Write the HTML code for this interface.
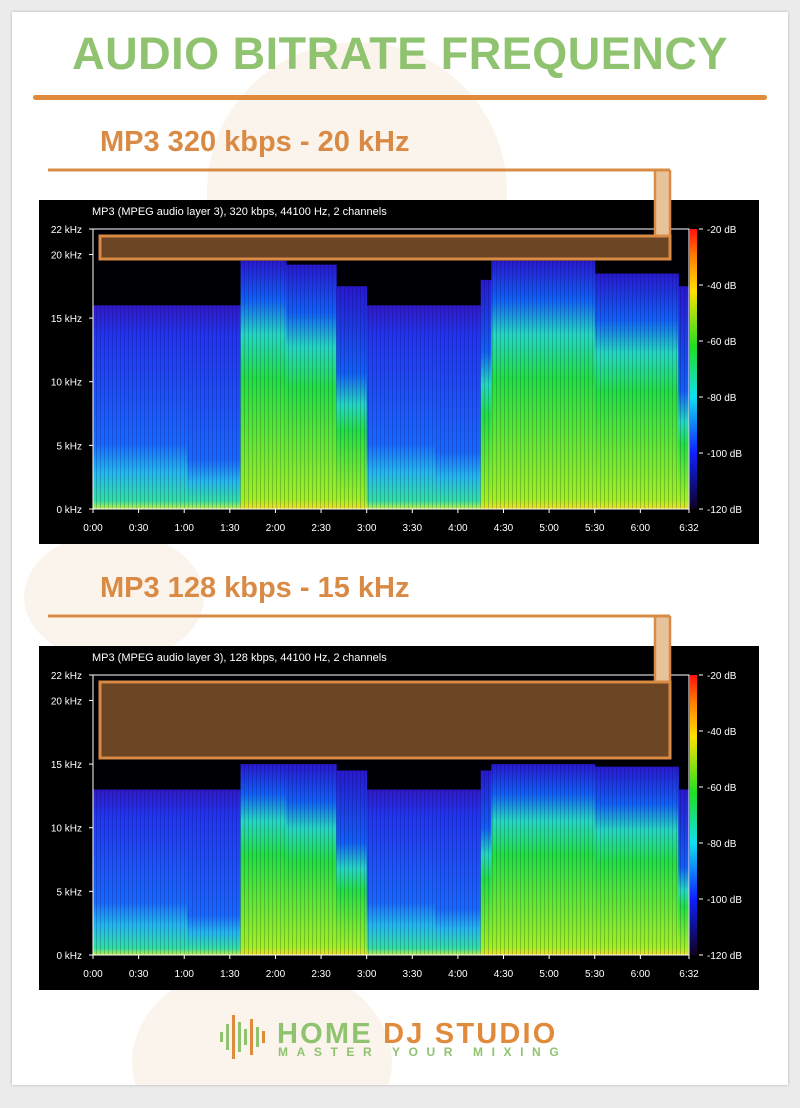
<!DOCTYPE html>
<html><head><meta charset="utf-8">
<style>
html,body{margin:0;padding:0;}
body{width:800px;height:1108px;background:#ececec;position:relative;overflow:hidden;font-family:"Liberation Sans",sans-serif;}
#card{position:absolute;left:12px;top:12px;width:776px;height:1073px;background:#fff;box-shadow:0 0 3px rgba(0,0,0,0.25);overflow:hidden;}
.circ{position:absolute;border-radius:50%;background:#fbf4ec;}
#title{position:absolute;left:0;top:28px;width:800px;text-align:center;font-size:45px;font-weight:bold;color:#8fc36f;letter-spacing:0.5px;}
#rule{position:absolute;left:33px;top:95px;width:734px;height:5px;border-radius:3px;background:#e08a3c;}
.hdr{position:absolute;left:100px;font-size:29px;font-weight:bold;color:#d98b45;}
svg{position:absolute;left:0;top:0;}
</style></head>
<body>
<div id="card">
 <div class="circ" style="left:195px;top:30px;width:300px;height:300px;"></div>
 <div class="circ" style="left:12px;top:520px;width:180px;height:130px;"></div>
 <div class="circ" style="left:120px;top:950px;width:260px;height:200px;"></div>
</div>
<div id="title">AUDIO BITRATE FREQUENCY</div>
<div id="rule"></div>
<div class="hdr" style="top:126px;">MP3 320 kbps - 20 kHz</div>
<div class="hdr" style="top:572px;">MP3 128 kbps - 15 kHz</div>
<svg id="chart" width="800" height="1108"></svg>
<script>
// time segments (seconds)
const segStart = [0, 62, 97, 127, 160, 180, 225, 255, 262, 330, 385];
const segEnd   = [62, 97, 127, 160, 180, 225, 255, 262, 330, 385, 392];
// intensity level per segment (0..1)
const segLevel = [0.4, 0.3, 0.9, 0.85, 0.6, 0.4, 0.35, 0.7, 0.9, 0.85, 0.5];
// cutoff frequency per segment (kHz)
const cutoff320 = [16, 16, 19.5, 19.2, 17.5, 16, 16, 18, 19.5, 18.5, 17.5];
const cutoff128 = [13, 13, 15, 15, 14.5, 13, 13, 14.5, 15, 14.8, 13];
const freqTicks = [0, 5, 10, 15, 20, 22];
const freqLabels = ["0 kHz","5 kHz","10 kHz","15 kHz","20 kHz","22 kHz"];
const timeTicks = [0,30,60,90,120,150,180,210,240,270,300,330,360,392];
const timeLabels = ["0:00","0:30","1:00","1:30","2:00","2:30","3:00","3:30","4:00","4:30","5:00","5:30","6:00","6:32"];
const dbTicks = [-20,-40,-60,-80,-100,-120];

const NS="http://www.w3.org/2000/svg";
const svg=document.getElementById('chart');
function el(tag,attrs,parent){const e=document.createElementNS(NS,tag);for(const k in attrs)e.setAttribute(k,attrs[k]);(parent||svg).appendChild(e);return e;}
const defs=el('defs',{});

function drawPanel(p){
  const g=el('g',{});
  
  
  const x0=93,x1=689,top=p.top,bot=p.top+280;
  const xs=t=>x0+t*(x1-x0)/392;
  const ys=f=>bot-f*(bot-top)/22;
  const dbY=d=>top+(-20-d)*(bot-top)/100;
  el('rect',{x:39,y:top-29,width:720,height:344,fill:'#000'},g);
  const cap=el('text',{x:92,y:top-14,fill:'#fff','font-size':11,'font-family':'Liberation Sans, sans-serif'},g);
  cap.textContent=p.caption;
  
  
  for(let i=0;i<segStart.length;i++){
    const L=segLevel[i],c=p.cut[i];
    const gid=p.id+'g'+i;
    const lg=el('linearGradient',{id:gid,x1:0,y1:1,x2:0,y2:0},defs);
    let stops;
    if(L>=0.5){
      const gt=Math.min(0.85,L*0.78);
      stops=[[0,'#f0e020'],[0.04,'#a0f020'],[gt*0.75,'#20e040'],[gt,'#20d8c0'],[Math.min(0.96,gt+0.14),'#1060f8'],[1,'#2818d0']];
    } else {
      stops=[[0,'#c0f040'],[0.04,'#30e0a0'],[L*0.45,'#20b8f0'],[L*0.8,'#1868ff'],[0.85,'#2234f0'],[1,'#3018c8']];
    }
    stops.forEach(s=>el('stop',{offset:s[0],'stop-color':s[1]},lg));
    const r=el('rect',{x:xs(segStart[i]),y:ys(c),width:xs(segEnd[i])-xs(segStart[i])+0.5,height:ys(0)-ys(c),fill:'url(#'+gid+')'},g);
    
    
  }
  const pid=p.id+'pat';
  const pat=el('pattern',{id:pid,width:4,height:4,patternUnits:'userSpaceOnUse'},defs);
  el('rect',{x:0,y:0,width:1,height:4,fill:'rgba(0,0,60,0.2)'},pat);
  el('rect',{x:x0,y:top,width:x1-x0,height:280,fill:'url(#'+pid+')'},g);
  el('rect',{x:x0,y:top,width:x1-x0,height:280,fill:'none',stroke:'#fff','stroke-width':1},g);
  freqTicks.forEach((f,i)=>{
    el('line',{x1:x0-4,x2:x0,y1:ys(f),y2:ys(f),stroke:'#fff'},g);
    const t=el('text',{x:x0-11,y:ys(f)+4,fill:'#fff','font-size':10,'text-anchor':'end','font-family':'Liberation Sans, sans-serif'},g);
    t.textContent=freqLabels[i];
    
    
  });
  timeTicks.forEach((s,i)=>{
    el('line',{x1:xs(s),x2:xs(s),y1:bot,y2:bot+4,stroke:'#fff'},g);
    const t=el('text',{x:xs(s),y:bot+22,fill:'#fff','font-size':10,'text-anchor':'middle','font-family':'Liberation Sans, sans-serif'},g);
    t.textContent=timeLabels[i];
    
    
  });
  const cg=el('linearGradient',{id:p.id+'cb',x1:0,y1:0,x2:0,y2:1},defs);
  [[0,'#ff1010'],[0.1,'#ff8000'],[0.22,'#ffe000'],[0.42,'#20e020'],[0.6,'#10e0f0'],[0.8,'#1020ff'],[1,'#100020']].forEach(s=>el('stop',{offset:s[0],'stop-color':s[1]},cg));
  const cb=el('rect',{x:690,y:top,width:7,height:280,fill:'url(#'+p.id+'cb)'},g);
  
  
  dbTicks.forEach(d=>{
    el('line',{x1:699,x2:703,y1:dbY(d),y2:dbY(d),stroke:'#fff'},g);
    const t=el('text',{x:707,y:dbY(d)+4,fill:'#fff','font-size':10,'font-family':'Liberation Sans, sans-serif'},g);
    t.textContent=d+' dB';
    
    
  });
  const bx=el('g',{},svg);
  
  
  el('rect',{x:655,y:p.lineY,width:15,height:p.boxY-p.lineY,fill:'#e7c39c'},bx);
  el('line',{x1:48,x2:670,y1:p.lineY,y2:p.lineY,stroke:'#d98b45','stroke-width':3},bx);
  el('polyline',{points:`655,${p.lineY} 655,${p.boxY} 670,${p.boxY} 670,${p.lineY}`,fill:'none',stroke:'#d98b45','stroke-width':2.5},bx);
  el('rect',{x:100,y:p.boxY,width:570,height:p.boxH,fill:'#6b4524',stroke:'#d98b45','stroke-width':3},bx);
}
drawPanel({id:'a',name:'spectrogram-320',top:229,caption:'MP3 (MPEG audio layer 3), 320 kbps, 44100 Hz, 2 channels',cut:cutoff320,lineY:170,boxY:236,boxH:23});
drawPanel({id:'b',name:'spectrogram-128',top:675,caption:'MP3 (MPEG audio layer 3), 128 kbps, 44100 Hz, 2 channels',cut:cutoff128,lineY:616,boxY:682,boxH:76});

const lg=el('g',{});


const barX=[220,226,232,238,244,250,256,262];
const barH=[10,26,44,30,16,36,20,12];
const barC=['#8fc36f','#8fc36f','#e08a3c','#8fc36f','#8fc36f','#e08a3c','#8fc36f','#e08a3c'];
barX.forEach((x,i)=>el('rect',{x:x,y:1037-barH[i]/2,width:3,height:barH[i],fill:barC[i]},lg));
const t1=el('text',{x:277,y:1043,'font-size':29,'font-weight':'bold','letter-spacing':2.2,'font-family':'Liberation Sans, sans-serif',fill:'#8fc36f'},lg);
t1.innerHTML='HOME <tspan fill="#e08a3c">DJ STUDIO</tspan>';
const t2=el('text',{x:278,y:1056,'font-size':12,'font-weight':'bold','letter-spacing':8.6,'font-family':'Liberation Sans, sans-serif',fill:'#8fc36f'},lg);
t2.textContent='MASTER YOUR MIXING';
</script>
</body></html>
